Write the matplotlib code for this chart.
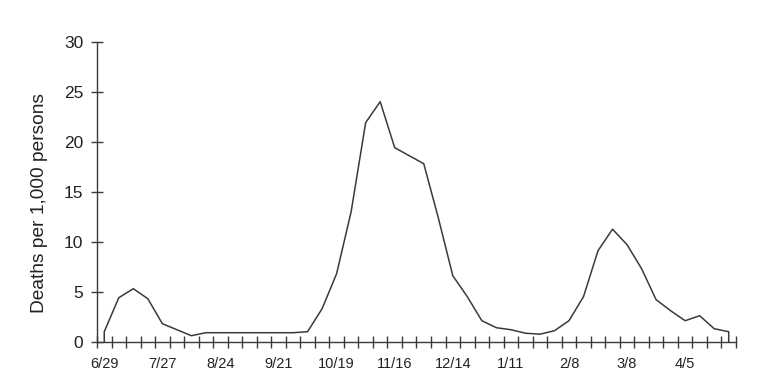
import matplotlib.pyplot as plt
import numpy as np

plt.rcParams['font.family'] = ['Liberation Sans', 'DejaVu Sans']

# weekly deaths per 1,000 persons, starting week of 6/29
deaths = [1.0, 4.4, 5.3, 4.3, 1.8, 1.2, 0.6, 0.9, 0.9, 0.9,
          0.9, 0.9, 0.9, 0.9, 1.0, 3.3, 6.8, 13.0, 21.9, 24.0,
          19.4, 18.6, 17.8, 12.4, 6.6, 4.5, 2.1, 1.4, 1.2, 0.85,
          0.75, 1.1, 2.1, 4.5, 9.1, 11.25, 9.7, 7.3, 4.2, 3.1,
          2.1, 2.6, 1.3, 1.0]
week_labels = ['6/29', '7/27', '8/24', '9/21', '10/19', '11/16',
               '12/14', '1/11', '2/8', '3/8', '4/5']

col = '#3a3a3a'
weeks = np.arange(len(deaths))
# the curve starts and ends on the axis
x = np.r_[weeks[0], weeks, weeks[-1]]
y = np.r_[0, deaths, 0]

fig = plt.figure(figsize=(7.68, 3.83), dpi=100)
ax = fig.add_axes([0.1263, 0.1078, 0.8320, 0.7834])

ax.plot(x, y, color=col, lw=1.1)

ax.set_xlim(-0.5, len(deaths) - 0.5)
ax.set_ylim(0, 30)
ax.set_yticks(range(0, 31, 5))
ax.set_xticks(weeks[::4])
ax.set_xticklabels(week_labels)
ax.set_xticks(np.arange(-0.5, len(deaths), 1), minor=True)

ax.tick_params(axis='y', direction='inout', length=8, width=1, color=col,
               labelsize=12.5, labelcolor='#222222', pad=6)
ax.tick_params(axis='x', which='major', length=0, labelsize=10.5,
               labelcolor='#222222', pad=11)
ax.tick_params(axis='x', which='minor', direction='inout', length=8,
               width=1, color=col)

for s in ['top', 'right']:
    ax.spines[s].set_visible(False)
for s in ['left', 'bottom']:
    ax.spines[s].set_color(col)
    ax.spines[s].set_linewidth(1)

ax.set_ylabel('Deaths per 1,000 persons', fontsize=13.75, color='#222222')
ax.yaxis.set_label_coords(-0.077, 0.462)

fig.savefig('out.png', dpi=100)
